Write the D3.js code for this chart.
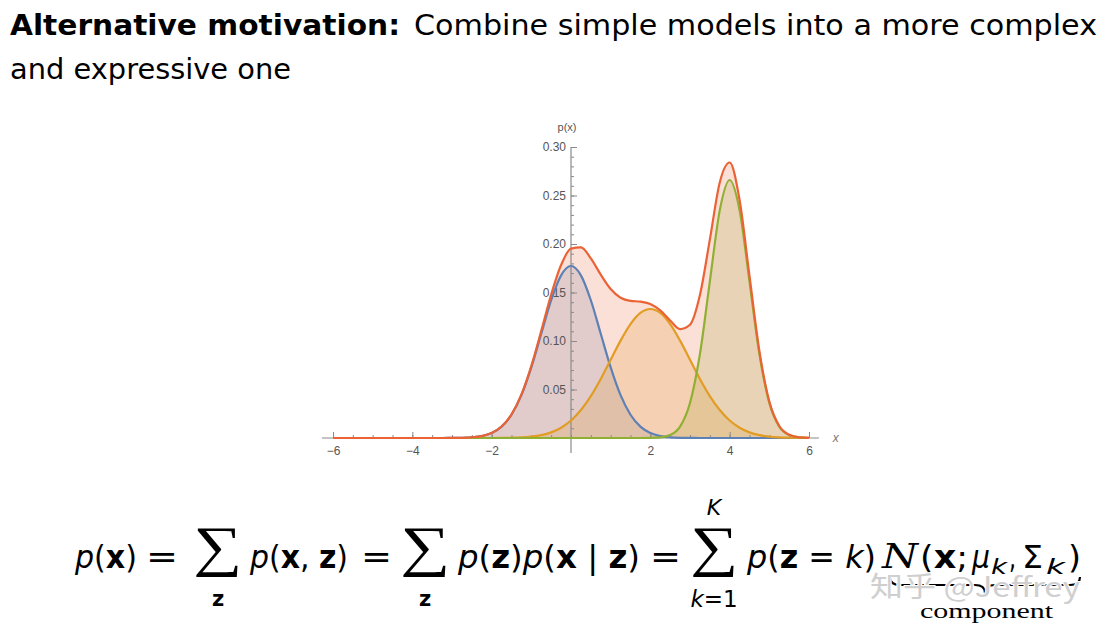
<!DOCTYPE html>
<html>
<head>
<meta charset="utf-8">
<script src="https://cdn.jsdelivr.net/npm/d3@7"></script>
<style>
  body { margin: 0; background: #fff; }
  svg { display: block; }
  .tick text { font-family: "Liberation Sans", Arial, sans-serif; font-size: 12px; fill: #555; }
  .axis path.domain { display: none; }
  .axis line { stroke: #8a8a8a; stroke-width: 1; }
</style>
</head>
<body>
<div id="graf"></div>
<script>
// Valores (x cada 0.25)
const xValues = [-6, -5.75, -5.5, -5.25, -5, -4.75, -4.5, -4.25, -4, -3.75, -3.5, -3.25,
  -3, -2.75, -2.5, -2.25, -2, -1.75, -1.5, -1.25, -1, -0.75, -0.5, -0.25,
  0, 0.25, 0.5, 0.75, 1, 1.25, 1.5, 1.75, 2, 2.25, 2.5, 2.75,
  3, 3.25, 3.5, 3.75, 4, 4.25, 4.5, 4.75, 5, 5.25, 5.5, 5.75, 6]

const blueValues = [0, 0, 0, 0, 0, 0, 0, 0, 0, 0, 0, 0,
  0.0001, 0.0002, 0.0007, 0.002, 0.0051, 0.0117, 0.024, 0.0442, 0.0729, 0.1075, 0.142, 0.1677,
  0.1773, 0.1677, 0.142, 0.1075, 0.0729, 0.0442, 0.024, 0.0117, 0.0051, 0.002, 0.0007, 0.0002,
  0.0001, 0, 0, 0, 0, 0, 0, 0, 0, 0, 0, 0, 0]

const orangeValues = [0, 0, 0, 0, 0, 0, 0, 0, 0, 0, 0, 0,
  0, 0, 0, 0, 0, 0.0001, 0.0003, 0.0007, 0.0015, 0.003, 0.0058, 0.0106,
  0.018, 0.0288, 0.0432, 0.0609, 0.0807, 0.1004, 0.1174, 0.1289, 0.133, 0.1289, 0.1174, 0.1004,
  0.0807, 0.0609, 0.0432, 0.0288, 0.018, 0.0106, 0.0058, 0.003, 0.0015, 0.0007, 0.0003, 0.0001, 0]

const greenValues = [0, 0, 0, 0, 0, 0, 0, 0, 0, 0, 0, 0,
  0, 0, 0, 0, 0, 0, 0, 0, 0, 0, 0, 0,
  0, 0, 0, 0, 0, 0, 0, 0, 0.0001, 0.0006, 0.003, 0.0117,
  0.036, 0.0864, 0.1613, 0.2347, 0.266, 0.2347, 0.1613, 0.0864, 0.036, 0.0117, 0.003, 0.0006, 0.0001]

const mixValues = [0, 0, 0, 0, 0, 0, 0, 0, 0, 0, 0, 0,
  0.0001, 0.0002, 0.0007, 0.002, 0.0051, 0.0118, 0.0243, 0.0449, 0.0744, 0.1105, 0.1478, 0.1783,
  0.1953, 0.1965, 0.1852, 0.1684, 0.1536, 0.1446, 0.1414, 0.1406, 0.1382, 0.1315, 0.1211, 0.1123,
  0.1168, 0.1473, 0.2045, 0.2635, 0.284, 0.2453, 0.1671, 0.0894, 0.0375, 0.0124, 0.0033, 0.0007, 0.0001]

const seriesNames = ["blue", "orange", "green", "mix"]
const seriesColors = ["#5e81b5", "#e19c24", "#8fb032", "#eb6235"]

const xMajorTicks = [-6, -4, -2, 2, 4, 6]
const yMajorTicks = [0.05, 0.10, 0.15, 0.20, 0.25, 0.30]

const draw = () => {
  const svg = d3.select("#graf")
    .append("svg")
    .attr("width", 1111)
    .attr("height", 634)

  // Titulo
  const title = svg.append("g")
    .style("font-family", "'DejaVu Sans', sans-serif")
    .style("font-size", "29px")
    .attr("fill", "#000")

  title.append("text")
    .attr("x", 10).attr("y", 35)
    .attr("font-weight", "bold")
    .attr("textLength", 390).attr("lengthAdjust", "spacingAndGlyphs")
    .text("Alternative motivation:")

  title.append("text")
    .attr("x", 414).attr("y", 35)
    .attr("textLength", 683).attr("lengthAdjust", "spacingAndGlyphs")
    .text("Combine simple models into a more complex")

  title.append("text")
    .attr("x", 10).attr("y", 79)
    .attr("textLength", 281).attr("lengthAdjust", "spacingAndGlyphs")
    .text("and expressive one")

  // Escaladores
  const x = d3.scaleLinear().domain([-6, 6]).range([333, 809])
  const y = d3.scaleLinear().domain([0, 0.30]).range([438, 147])

  const chart = svg.append("g")

  const series = seriesNames.map((name, i) => ({
    name,
    color: seriesColors[i],
    values: [blueValues, orangeValues, greenValues, mixValues][i]
      .map((v, j) => ({ x: xValues[j], y: v }))
  }))

  const area = d3.area()
    .x((d) => x(d.x))
    .y0(y(0))
    .y1((d) => y(d.y))
    .curve(d3.curveMonotoneX)

  const line = d3.line()
    .x((d) => x(d.x))
    .y((d) => y(d.y))
    .curve(d3.curveMonotoneX)

  chart.selectAll("path.area")
    .data(series)
    .join("path")
    .attr("class", "area")
    .attr("d", (d) => area(d.values))
    .attr("fill", (d) => d.color)
    .attr("fill-opacity", 0.2)

  // Ejes
  const xAxisLayer = chart.append("g").attr("transform", `translate(0, ${y(0)})`)
  xAxisLayer.append("line")
    .attr("x1", x(-6.28)).attr("x2", x(6.25))
    .attr("stroke", "#8a8a8a").attr("stroke-width", 1.2)

  xAxisLayer.append("g")
    .attr("class", "axis")
    .call(d3.axisBottom(x).tickValues(d3.range(-6, 6.01, 0.5)).tickSize(-3).tickFormat(""))

  xAxisLayer.append("g")
    .attr("class", "axis")
    .call(d3.axisBottom(x).tickValues(xMajorTicks).tickSize(-6).tickPadding(8).tickFormat((d) => d < 0 ? "\u2212" + (-d) : d))

  const yAxisLayer = chart.append("g").attr("transform", `translate(${x(0)}, 0)`)
  yAxisLayer.append("line")
    .attr("y1", y(0.30)).attr("y2", y(0) + 15)
    .attr("stroke", "#8a8a8a").attr("stroke-width", 1.2)

  yAxisLayer.append("g")
    .attr("class", "axis")
    .call(d3.axisLeft(y).tickValues(d3.range(0.01, 0.301, 0.01)).tickSize(-3).tickFormat(""))

  yAxisLayer.append("g")
    .attr("class", "axis")
    .call(d3.axisLeft(y).tickValues(yMajorTicks).tickSize(-6).tickPadding(5).tickFormat(d3.format(".2f")))

  yAxisLayer.append("text")
    .attr("x", -4).attr("y", 131)
    .attr("text-anchor", "middle")
    .style("font-family", "'Liberation Sans', sans-serif")
    .style("font-size", "11px")
    .attr("fill", "#555")
    .text("p(x)")

  xAxisLayer.append("text")
    .attr("x", x(6.6)).attr("y", 4)
    .style("font-family", "'Liberation Sans', sans-serif")
    .style("font-size", "12px")
    .style("font-style", "italic")
    .attr("fill", "#777")
    .text("x")

  // Curvas
  chart.selectAll("path.curve")
    .data(series)
    .join("path")
    .attr("class", "curve")
    .attr("d", (d) => line(d.values))
    .attr("fill", "none")
    .attr("stroke", (d) => d.color)
    .attr("stroke-width", 2.2)

  // Formula
  const formula = svg.append("g")
    .style("font-family", "'DejaVu Sans', sans-serif")
    .attr("fill", "#000")

  const chunk = (x0, x1, yb, size, parts, family) => {
    const t = formula.append("text")
      .attr("x", x0).attr("y", yb)
      .style("font-size", size + "px")
      .attr("textLength", x1 - x0)
      .attr("lengthAdjust", "spacingAndGlyphs")
    if (family) t.style("font-family", family)
    parts.forEach(([s, st]) => {
      const sp = t.append("tspan").text(s)
      if (st === "i") sp.style("font-style", "italic")
      if (st === "b") sp.style("font-weight", "bold")
    })
    return t
  }

  const centered = (cx, yb, size, parts) => {
    const t = formula.append("text")
      .attr("x", cx).attr("y", yb)
      .attr("text-anchor", "middle")
      .style("font-size", size + "px")
    parts.forEach(([s, st]) => {
      const sp = t.append("tspan").text(s)
      if (st === "i") sp.style("font-style", "italic")
      if (st === "b") sp.style("font-weight", "bold")
    })
  }

  const base = 568
  const fs = 32
  const sigma = (x0, x1) => chunk(x0, x1, 565, 56, [["\u2211"]], "'Liberation Serif', serif")

  chunk(75, 137, base, fs, [["p", "i"], ["("], ["x", "b"], [")"]])
  chunk(146, 178, base, fs, [["="]])
  sigma(193, 242)
  centered(218, 606, 21, [["z", "b"]])
  chunk(250, 348, base, fs, [["p", "i"], ["("], ["x", "b"], [", "], ["z", "b"], [")"]])
  chunk(361, 392, base, fs, [["="]])
  sigma(400, 450)
  centered(425, 606, 21, [["z", "b"]])
  chunk(458, 640, base, fs, [["p", "i"], ["("], ["z", "b"], [")"], ["p", "i"], ["("], ["x", "b"], [" | "], ["z", "b"], [")"]])
  chunk(650, 681, base, fs, [["="]])
  sigma(690, 738)
  centered(714, 515, 22, [["K", "i"]])
  centered(714, 607, 23, [["k", "i"], ["=1"]])
  chunk(747, 876, base, fs, [["p", "i"], ["("], ["z", "b"], [" = "], ["k", "i"], [")"]])
  chunk(882, 918, base, 34, [["N", "i"]], "'DejaVu Serif', serif")
  chunk(920, 968, base, fs, [["("], ["x", "b"], [";"]])
  chunk(972, 990, base, fs, [["\u03bc", "i"]])
  chunk(991, 1007, base + 6, 22, [["k", "i"]])
  chunk(1009, 1016, base, fs, [[","]])
  chunk(1022, 1043, base, fs, [["\u03a3"]])
  chunk(1046, 1065, base + 6, 22, [["k", "i"]])
  chunk(1068, 1081, base, fs, [[")"]])

  // Llave inferior
  const bx0 = 890, bx1 = 1080, by = 577, bm = (bx0 + bx1) / 2
  formula.append("path")
    .attr("d", `M${bx0},${by} q0,8 10,8 L${bm - 10},${by + 8} q10,0 10,8 q0,-8 10,-8 L${bx1 - 10},${by + 8} q10,0 10,-8`)
    .attr("fill", "none")
    .attr("stroke", "#000")
    .attr("stroke-width", 2.2)

  formula.append("text")
    .attr("x", 870).attr("y", 597)
    .style("font-family", "'Noto Sans CJK SC', 'Liberation Sans', sans-serif")
    .style("font-size", "28px")
    .attr("textLength", 210).attr("lengthAdjust", "spacingAndGlyphs")
    .attr("fill", "#cfcfcf")
    .attr("stroke", "#fff").attr("stroke-width", 2)
    .style("paint-order", "stroke")
    .text("知乎 @Jeffrey")

  chunk(920, 1053, 618, 22, [["component"]], "'Liberation Serif', serif")
}

draw()
</script>
</body>
</html>
